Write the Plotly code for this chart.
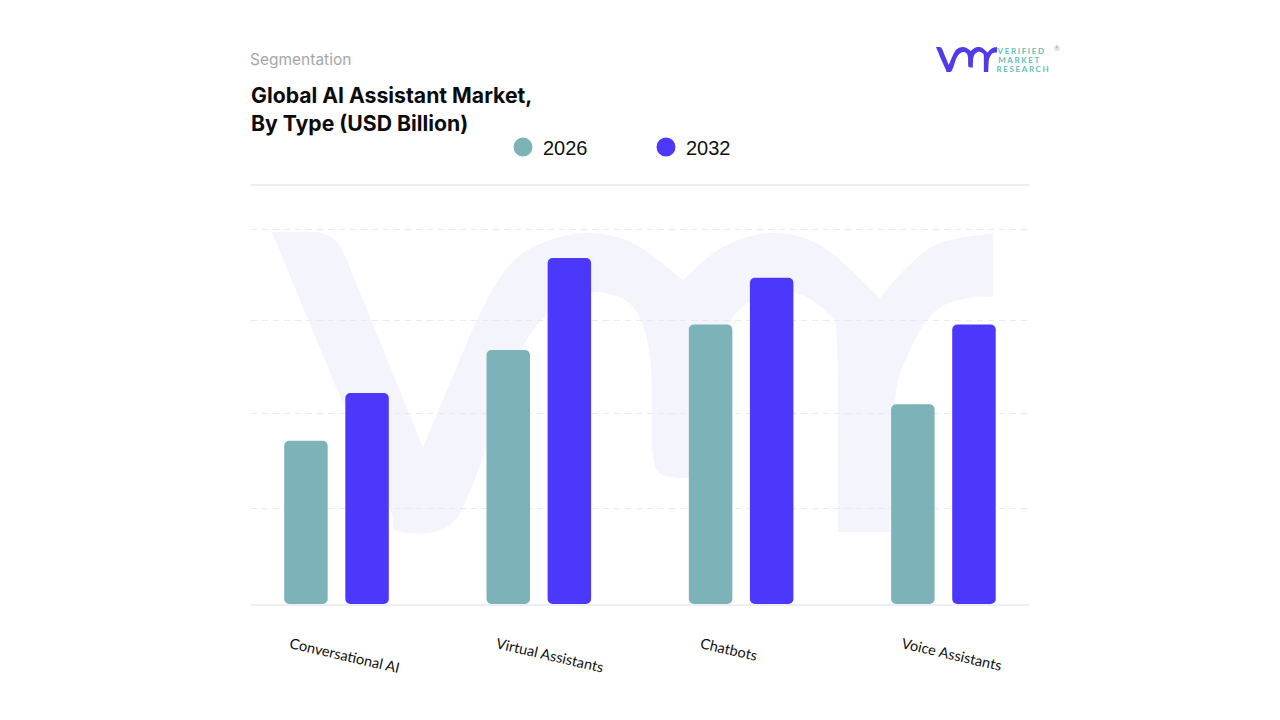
import plotly.graph_objects as go

categories = ["Conversational AI", "Virtual Assistants", "Chatbots", "Voice Assistants"]
values_2026 = [1.74, 2.71, 2.98, 2.13]
values_2032 = [2.25, 3.69, 3.48, 2.98]
series_names = ["2026", "2032"]
grid_values = [1.024, 2.027, 3.019, 4.0]

W, H = 1280, 720
L, R, T, B = 251, 1029, 186, 604
TEAL, BLUE = "#7bb3b8", "#4b38fb"
positions = list(range(len(categories)))
label_nudge = [-0.01, 0.01, 0.02, 0.015]


def px(x):
    return (x - L) / (R - L)


def py(y):
    return (B - y) / (B - T)


# Outline of the background brand mark, in page pixels (decoration, not data)
mark_chains = [
    [(272, 232), (318, 232)],
    [(318, 232), (335, 240), (346, 258)],
    [(346, 258), (423, 447)],
    [(423, 447), (450, 383), (477, 320), (503, 273), (533, 247), (583, 233), (633, 243), (683, 280)],
    [(683, 280), (723, 247), (773, 233), (823, 247), (880, 298)],
    [(880, 298), (907, 267), (940, 243), (993, 233)],
    [(993, 233), (993, 297)],
    [(993, 297), (967, 298), (933, 313), (907, 357), (895, 403), (890, 532)],
    [(890, 532), (838, 532)],
    [(838, 532), (837, 343), (827, 313), (797, 293), (767, 293), (733, 317), (712, 370), (708, 478)],
    [(708, 478), (677, 478)],
    [(677, 478), (658, 472), (652, 450)],
    [(652, 450), (650, 357), (633, 307), (597, 292), (567, 300), (533, 330), (507, 383),
     (483, 457), (463, 507), (450, 525), (430, 533), (410, 533), (393, 530)],
    [(393, 530), (388, 503), (343, 403), (272, 232)],
]


def mark_path(tx):
    parts = []
    for c_i, chain in enumerate(mark_chains):
        pts = [tx(p) for p in chain]
        if c_i == 0:
            parts.append(f"M{pts[0][0]:.5f},{pts[0][1]:.5f}")
        for i in range(len(pts) - 1):
            p0 = pts[max(i - 1, 0)]
            p1 = pts[i]
            p2 = pts[i + 1]
            p3 = pts[min(i + 2, len(pts) - 1)]
            c1 = (p1[0] + (p2[0] - p0[0]) / 6, p1[1] + (p2[1] - p0[1]) / 6)
            c2 = (p2[0] - (p3[0] - p1[0]) / 6, p2[1] - (p3[1] - p1[1]) / 6)
            parts.append(f"C{c1[0]:.5f},{c1[1]:.5f} {c2[0]:.5f},{c2[1]:.5f} {p2[0]:.5f},{p2[1]:.5f}")
    return " ".join(parts) + " Z"


def big(p):
    return (px(p[0]), py(p[1]))


def small(p):
    return (px(936 + (p[0] - 272) * 61 / 721), py(47 + (p[1] - 232) * 25 / 300))


fig = go.Figure()

for name, vals, color, off in [
    (series_names[0], values_2026, TEAL, -0.2585),
    (series_names[1], values_2032, BLUE, 0.0435),
]:
    # A non-zero base makes plotly round both ends of the bar
    fig.add_bar(
        x=positions, y=vals, base=1e-6, width=0.215, offset=off,
        marker=dict(color=color, cornerradius=5, line_width=0), name=name, showlegend=False,
    )
    # Legend entry with a round key
    fig.add_scatter(
        x=[None], y=[None], mode="markers", name=name,
        marker=dict(color=color, size=16, line=dict(color=color, width=3)),
    )

logo_font = dict(family="Lato", size=8, color="#62c0b4", weight=700)

fig.update_layout(
    width=W, height=H, autosize=False,
    margin=dict(l=L, r=W - R, t=T, b=H - B, pad=0),
    paper_bgcolor="white", plot_bgcolor="rgba(0,0,0,0)",
    barmode="overlay",
    title=dict(
        text="Global AI Assistant Market,<br>By Type (USD Billion)",
        font=dict(family="Inter", size=21.2, color="#0b0b0b", weight=700),
        xref="container", yref="container", x=251 / W, xanchor="left",
        y=1 - 103 / H, yanchor="top", pad=dict(l=0, t=0, b=0, r=0),
    ),
    legend=dict(
        orientation="h", x=px(503), y=py(147), xanchor="left", yanchor="middle",
        entrywidth=98, entrywidthmode="pixels",
        font=dict(family="Liberation Sans", size=20, color="#111111"),
        bgcolor="rgba(0,0,0,0)", itemclick=False, itemdoubleclick=False,
    ),
    xaxis=dict(
        range=[-0.4226, 3.423], tickmode="array",
        tickvals=[p + n for p, n in zip(positions, label_nudge)], ticktext=categories,
        showgrid=False, showline=True, mirror=True,
        linecolor="#eceef1", linewidth=1.5, ticks="", zeroline=False,
        tickangle=13, ticklabelshift=-44, ticklabelstandoff=25,
        tickfont=dict(family="Lato", size=14.5, color="#111111"), layer="below traces",
    ),
    yaxis=dict(
        range=[0, (B - T) / 93.75], tickvals=grid_values, showticklabels=False,
        showgrid=True, gridcolor="#e9eaed", griddash="6px,5px", gridwidth=1,
        zeroline=False, showline=False, ticks="", layer="below traces",
    ),
    shapes=[
        dict(type="path", xref="paper", yref="paper", layer="below", path=mark_path(big),
             fillcolor="#f4f5fc", line_width=0),
        dict(type="path", xref="paper", yref="paper", layer="below", path=mark_path(small),
             fillcolor="#4f3be8", line_width=0),
    ],
    annotations=[
        dict(text="Segmentation", xref="paper", yref="paper", x=px(248), y=py(59.5), xanchor="left",
             yanchor="middle", showarrow=False, font=dict(family="Inter", size=15.5, color="#a5a6ab")),
        dict(text="VERIFIED", xref="paper", yref="paper", x=px(1000.5), y=py(51), xanchor="left",
             yanchor="middle", showarrow=False, font=logo_font),
        dict(text="MARKET", xref="paper", yref="paper", x=px(1000.5), y=py(60), xanchor="left",
             yanchor="middle", showarrow=False, font=logo_font),
        dict(text="RESEARCH", xref="paper", yref="paper", x=px(1000.5), y=py(69), xanchor="left",
             yanchor="middle", showarrow=False, font=logo_font),
        dict(text="®", xref="paper", yref="paper", x=px(1057), y=py(48), xanchor="center",
             yanchor="middle", showarrow=False, font=dict(family="Lato", size=7, color="#9aa0a6")),
    ],
)

spacing_js = """
document.body.style.margin = '0';
document.querySelectorAll('.annotation-text').forEach(function (t) {
  if (['VERIFIED', 'MARKET', 'RESEARCH'].indexOf(t.textContent) >= 0) {
    t.style.letterSpacing = '1.6px';
  }
});
"""
fig.write_html("out.html", post_script=spacing_js, config={"displayModeBar": False})
